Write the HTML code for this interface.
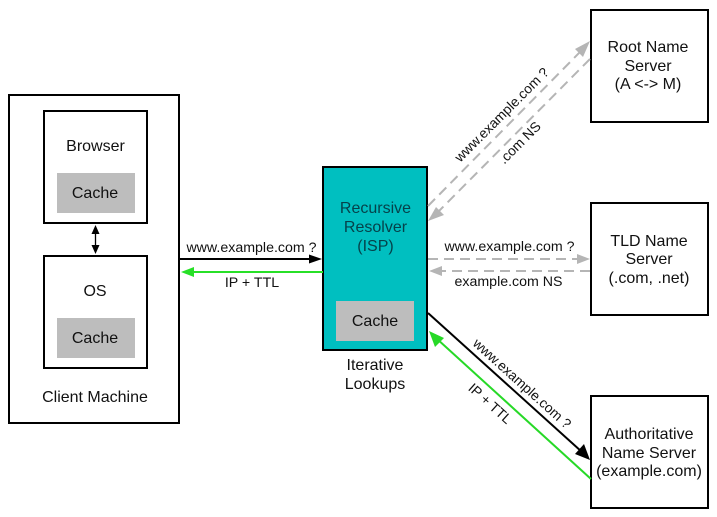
<!DOCTYPE html>
<html><head><meta charset="utf-8"><style>
html,body{margin:0;padding:0;background:#fff}
svg{display:block}
text{font-family:"Liberation Sans",Arial,sans-serif;font-size:16px;fill:#111;text-anchor:middle}
text.s{font-size:14.2px}
.b{fill:#fff;stroke:#000;stroke-width:2}
.c{fill:#bdbdbd}
</style></head><body>
<svg width="717" height="517" viewBox="0 0 717 517" xmlns="http://www.w3.org/2000/svg">
<rect width="717" height="517" fill="#fff"/>
<rect class="b" x="9" y="95" width="170" height="328"/>
<rect class="b" x="44" y="111" width="103" height="112"/>
<rect class="c" x="57" y="173" width="78" height="40"/>
<rect class="b" x="44" y="256" width="103" height="112"/>
<rect class="c" x="57" y="318" width="78" height="40"/>
<rect x="323" y="167" width="104" height="183" fill="#00bfc0" stroke="#000" stroke-width="2"/>
<rect class="c" x="336" y="301" width="78" height="40"/>
<rect class="b" x="591" y="10" width="117" height="112"/>
<rect class="b" x="591" y="203" width="117" height="112"/>
<rect class="b" x="591" y="396" width="117" height="112"/>

<!-- browser/os arrow -->
<line x1="95.5" y1="230" x2="95.5" y2="249" stroke="#000" stroke-width="1.3"/>
<polygon points="95.5,225 91.5,234 99.5,234" fill="#000"/>
<polygon points="95.5,254 91.5,245 99.5,245" fill="#000"/>

<!-- client <-> resolver -->
<line x1="180" y1="259" x2="312" y2="259" stroke="#000" stroke-width="2"/>
<polygon points="322,259 309,254.5 309,263.5" fill="#000"/>
<line x1="323" y1="272" x2="192" y2="272" stroke="#27e027" stroke-width="2"/>
<polygon points="181,272 194,267 194,277" fill="#27e027"/>

<!-- root -->
<line x1="428" y1="206" x2="582" y2="50" stroke="#b5b5b5" stroke-width="2" stroke-dasharray="10 6"/>
<polygon points="590,41 575,49 583,57" fill="#b5b5b5"/>
<line x1="590" y1="59" x2="437" y2="213" stroke="#b5b5b5" stroke-width="2" stroke-dasharray="10 6"/>
<polygon points="428,221 436,207 444,215" fill="#b5b5b5"/>

<!-- tld -->
<line x1="428" y1="259" x2="580" y2="259" stroke="#b5b5b5" stroke-width="2" stroke-dasharray="10 6"/>
<polygon points="590,259 577,254 577,264" fill="#b5b5b5"/>
<line x1="590" y1="271" x2="440" y2="271" stroke="#b5b5b5" stroke-width="2" stroke-dasharray="10 6"/>
<polygon points="429,271 442,266 442,276" fill="#b5b5b5"/>

<!-- auth -->
<line x1="428" y1="313" x2="582" y2="452" stroke="#000" stroke-width="2"/>
<polygon points="590,460 575,454 584,444" fill="#000"/>
<line x1="591" y1="479" x2="436" y2="338" stroke="#27d927" stroke-width="2"/>
<polygon points="429,331 444,338 435,347" fill="#27d927"/>

<text x="95.5" y="151">Browser</text>
<text x="95" y="198">Cache</text>
<text x="95" y="296">OS</text>
<text x="95" y="343">Cache</text>
<text x="95" y="402">Client Machine</text>
<text x="375.5" y="213" style="fill:#05424a">Recursive</text>
<text x="375.5" y="232" style="fill:#05424a">Resolver</text>
<text x="375.5" y="251" style="fill:#05424a">(ISP)</text>
<text x="375" y="326">Cache</text>
<text x="375" y="370">Iterative</text>
<text x="375" y="389">Lookups</text>
<text x="648" y="52">Root Name</text>
<text x="648" y="71">Server</text>
<text x="648" y="89">(A &lt;-&gt; M)</text>
<text x="649" y="246">TLD Name</text>
<text x="649" y="264">Server</text>
<text x="649" y="283">(.com, .net)</text>
<text x="649" y="439">Authoritative</text>
<text x="649" y="458">Name Server</text>
<text x="649" y="476">(example.com)</text>

<text class="s" x="251.5" y="252">www.example.com ?</text>
<text class="s" x="252" y="287">IP + TTL</text>
<text class="s" x="509.5" y="251">www.example.com ?</text>
<text class="s" x="508.5" y="286">example.com NS</text>
<text class="s" transform="translate(505,118) rotate(-45)" style="font-size:13.8px">www.example.com ?</text>
<text class="s" transform="translate(523,146) rotate(-45)" style="font-size:13.8px">.com NS</text>
<text class="s" transform="translate(519,387) rotate(42)" style="font-size:13.8px">www.example.com ?</text>
<text class="s" transform="translate(487,407) rotate(42)" style="font-size:13.8px">IP + TTL</text>
</svg>
</body></html>
